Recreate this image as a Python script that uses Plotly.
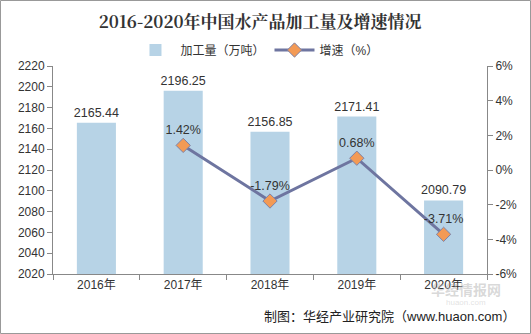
import plotly.graph_objects as go

years = ["2016年", "2017年", "2018年", "2019年", "2020年"]
output = [2165.44, 2196.25, 2156.85, 2171.41, 2090.79]
growth = [None, 1.42, -1.79, 0.68, -3.71]
left_ticks = list(range(2020, 2221, 20))
right_ticks = [-6, -4, -2, 0, 2, 4, 6]

FONT = "Liberation Sans, Arial, Noto Sans CJK SC, sans-serif"

fig = go.Figure()
fig.add_trace(go.Bar(
    x=years, y=output, name="加工量（万吨）",
    marker=dict(color="#B7D3E6", line=dict(width=0)),
    width=0.45,
    text=[f"{v:.2f}" for v in output], textposition="outside",
    constraintext="none",
    textfont=dict(size=12.5, color="#333333", family=FONT),
    cliponaxis=False,
))
fig.add_trace(go.Scatter(
    x=years, y=growth, name="增速（%）", yaxis="y2",
    mode="lines+markers+text",
    line=dict(color="#6E75A0", width=3),
    marker=dict(symbol="diamond", size=11, color="#F39A55",
                line=dict(color="#7C82A8", width=1)),
    text=[None if g is None else f"{g:.2f}%" for g in growth],
    textposition="top center",
    textfont=dict(size=12.5, color="#333333", family=FONT),
    cliponaxis=False,
))

fig.update_layout(
    width=531, height=334,
    margin=dict(l=53, r=44, t=66, b=60),
    paper_bgcolor="white", plot_bgcolor="white",
    font=dict(family=FONT, size=12, color="#333333"),
    title=dict(text="<b>2016-2020年中国水产品加工量及增速情况</b>",
               x=0.49, xanchor="center", y=0.934, yanchor="middle",
               font=dict(size=17, color="#333333",
                         family="Noto Serif CJK SC, Noto Sans CJK SC, serif")),
    legend=dict(orientation="h", x=0.47, xanchor="center", y=(274 - 50) / 208, yanchor="middle",
                font=dict(size=12, color="#333333", family=FONT),
                itemwidth=40, bgcolor="rgba(0,0,0,0)"),
    bargap=0.55,
    xaxis=dict(showline=True, linecolor="#888888", linewidth=1,
               ticks="outside", tickson="boundaries", ticklen=5, tickcolor="#888888",
               tickfont=dict(size=12, color="#333333"), showgrid=False),
    yaxis=dict(range=[2020, 2220], tickvals=left_ticks, showline=True,
               linecolor="#888888", ticks="outside", ticklen=5, tickcolor="#888888",
               showgrid=False, zeroline=False,
               tickfont=dict(size=12, color="#333333")),
    yaxis2=dict(range=[-6, 6], tickvals=right_ticks,
                ticktext=[f"{t}%" for t in right_ticks],
                overlaying="y", side="right", showline=True,
                linecolor="#888888", ticks="outside", ticklen=5, tickcolor="#888888",
                showgrid=False, zeroline=False,
                tickfont=dict(size=12, color="#333333")),
    shapes=[dict(type="rect", xref="paper", yref="paper",
                 x0=(0.5 - 53) / 434, x1=(530.5 - 53) / 434,
                 y0=(274 - 333.5) / 208, y1=(274 - 0.5) / 208,
                 line=dict(color="#999999", width=1), fillcolor="rgba(0,0,0,0)",
                 layer="below")],
    annotations=[
        dict(text="制图：华经产业研究院（www.huaon.com）", xref="paper", yref="paper",
             x=(517 - 53) / 434, y=(274 - 316) / 208, xanchor="right", yanchor="middle",
             showarrow=False, font=dict(size=13, color="#222222", family=FONT)),
        dict(text="<b>华经情报网</b>", xref="paper", yref="paper",
             x=(466 - 53) / 434, y=(274 - 289) / 208, xanchor="center", yanchor="middle",
             showarrow=False, font=dict(size=14, color="rgba(170,170,170,0.45)",
                                       family="Noto Sans CJK SC")),
        dict(text="huaon.com", xref="paper", yref="paper",
             x=(466 - 53) / 434, y=(274 - 302) / 208, xanchor="center", yanchor="middle",
             showarrow=False, font=dict(size=8, color="rgba(190,190,190,0.45)",
                                       family=FONT)),
    ],
)

fig.write_html("out.html")
